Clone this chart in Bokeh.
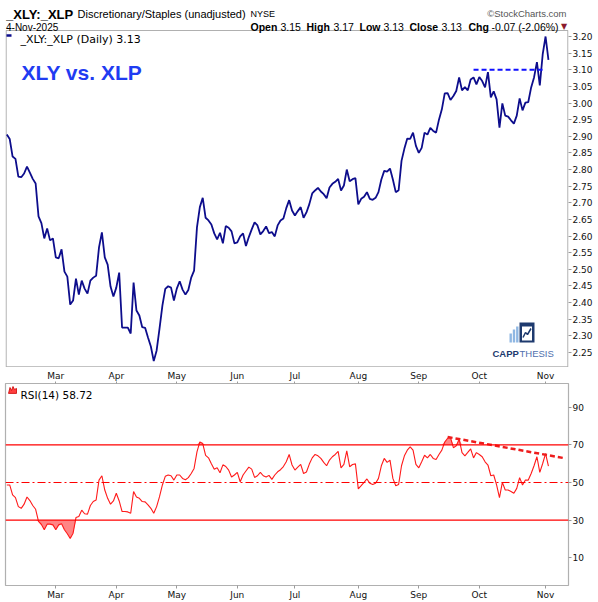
import numpy as np
from bokeh.plotting import figure
from bokeh.layouts import column
from bokeh.models import Range1d, FixedTicker, Span, LinearAxis
from bokeh.embed import file_html
from bokeh.resources import INLINE
from bokeh.core.properties import value

# ---------------- data (trading-day index 0 = 5-Feb-2025) ----------------
month_labels = ["Mar", "Apr", "May", "Jun", "Jul", "Aug", "Sep", "Oct", "Nov"]
month_start_idx = [17, 38, 59, 80, 100, 122, 143, 164, 187]

ratio = [
    2.905, 2.892, 2.839, 2.832, 2.779, 2.777, 2.788, 2.809, 2.791, 2.772,
    2.758, 2.659, 2.639, 2.593, 2.623, 2.587, 2.593, 2.536, 2.533, 2.560,
    2.493, 2.478, 2.394, 2.406, 2.472, 2.424, 2.466, 2.442, 2.427, 2.466,
    2.475, 2.481, 2.566, 2.611, 2.536, 2.514, 2.448, 2.418, 2.445, 2.490,
    2.325, 2.325, 2.325, 2.307, 2.460, 2.376, 2.361, 2.326, 2.324, 2.295,
    2.268, 2.224, 2.256, 2.322, 2.391, 2.441, 2.449, 2.445, 2.406, 2.442,
    2.464, 2.439, 2.424, 2.438, 2.475, 2.496, 2.626, 2.687, 2.715, 2.655,
    2.647, 2.635, 2.608, 2.590, 2.610, 2.578, 2.630, 2.625, 2.614, 2.578,
    2.581, 2.599, 2.608, 2.570, 2.597, 2.620, 2.641, 2.632, 2.605, 2.615,
    2.629, 2.609, 2.612, 2.599, 2.632, 2.647, 2.653, 2.684, 2.708, 2.677,
    2.662, 2.675, 2.687, 2.655, 2.671, 2.696, 2.728, 2.737, 2.745, 2.734,
    2.726, 2.714, 2.746, 2.757, 2.763, 2.772, 2.737, 2.752, 2.800, 2.765,
    2.771, 2.774, 2.695, 2.712, 2.718, 2.732, 2.712, 2.709, 2.715, 2.732,
    2.770, 2.796, 2.794, 2.803, 2.770, 2.732, 2.738, 2.826, 2.863, 2.893,
    2.892, 2.911, 2.871, 2.850, 2.865, 2.911, 2.905, 2.925, 2.916, 2.911,
    2.950, 2.981, 3.029, 3.030, 3.009, 3.021, 3.036, 3.077, 3.038, 3.048,
    3.038, 3.071, 3.077, 3.056, 3.078, 3.066, 3.047, 3.093, 3.017, 3.035,
    3.011, 2.926, 2.999, 2.962, 2.959, 2.948, 2.938, 2.962, 3.014, 2.978,
    3.001, 3.003, 3.047, 3.077, 3.123, 3.053, 3.146, 3.200, 3.130,
]

rsi = [
    48.7, 48.7, 43.4, 42.0, 37.2, 36.3, 38.5, 42.3, 40.4, 37.8,
    35.8, 29.3, 27.7, 24.9, 27.9, 27.9, 27.5, 24.9, 27.5, 28.1,
    24.9, 22.8, 20.3, 23.1, 31.4, 32.0, 35.3, 33.4, 33.2, 37.8,
    39.9, 40.7, 51.3, 53.6, 46.0, 41.6, 38.5, 40.2, 44.3, 40.2,
    34.6, 34.6, 34.4, 33.7, 45.2, 42.3, 41.6, 39.9, 39.7, 38.1,
    36.3, 33.7, 37.2, 42.5, 48.7, 53.3, 54.0, 53.6, 51.3, 54.0,
    54.0, 52.2, 51.5, 52.6, 54.8, 57.5, 66.3, 71.6, 70.7, 64.4,
    63.1, 60.0, 57.1, 57.8, 55.2, 59.4, 58.5, 56.6, 52.9, 54.0,
    55.4, 50.4, 54.0, 56.1, 58.2, 57.1, 52.7, 53.6, 55.4, 53.6,
    52.9, 53.8, 51.7, 54.0, 55.7, 56.8, 58.5, 61.0, 64.9, 59.3,
    56.6, 58.2, 59.6, 54.8, 55.6, 59.8, 63.1, 64.9, 64.2, 62.8,
    60.7, 58.9, 61.9, 63.7, 64.9, 66.5, 57.8, 59.6, 66.8, 58.4,
    59.6, 59.9, 46.6, 48.3, 50.1, 51.9, 49.6, 49.0, 49.6, 52.2,
    58.9, 62.8, 60.7, 61.9, 52.2, 48.3, 49.0, 58.9, 64.2, 67.2,
    68.9, 67.2, 59.6, 57.8, 61.0, 64.5, 63.1, 64.9, 62.8, 62.2,
    64.9, 67.2, 71.5, 73.5, 73.8, 68.5, 69.5, 73.0, 65.9, 64.2,
    66.0, 67.9, 63.1, 65.9, 64.9, 63.7, 61.0, 59.3, 53.6, 54.0,
    48.7, 42.0, 50.1, 46.0, 46.0, 45.2, 44.3, 46.9, 52.6, 48.7,
    51.3, 51.3, 54.8, 58.9, 63.7, 55.4, 60.1, 65.4, 58.72,
]

price_ticks = [2.25, 2.30, 2.35, 2.40, 2.45, 2.50, 2.55, 2.60, 2.65, 2.70, 2.75,
               2.80, 2.85, 2.90, 2.95, 3.00, 3.05, 3.10, 3.15, 3.20]
rsi_ticks = [10, 30, 50, 70, 90]

resist_x = [162, 186]
resist_y = [3.10, 3.10]
rsi_trend_x = [153, 194]
rsi_trend_y = [74.2, 62.8]

idx = np.arange(len(ratio))
rsi_arr = np.array(rsi)

# ---------------- geometry ----------------
W = 598
# both frames: page x 5..568 ; price canvas frame y 0..367, RSI frame y 383..587
X0, X1 = -0.46, 194.96
PX_PER = 563.0 / (X1 - X0)
PY_TOP = 3.20 + 36 / 332.6             # value at page y = 0
PY_BOT = 3.20 - (367 - 36) / 332.6     # value at page y = 367
RY0, RY1 = -4.7, 102.6

FONT = "Liberation Sans"
AXFONT = "DejaVu Sans"
BOX = "#b0b0b0"


def tx(px):
    return X0 + (px - 5) / PX_PER


def ty(py):
    return 3.20 - (py - 36) / 332.6


def ry(py):
    return RY1 - (py - 383) / 204.0 * (RY1 - RY0)


def style_axis(ax, tick_out=3):
    ax.axis_line_color = None
    ax.major_tick_line_color = "#9a9a9a"
    ax.major_tick_out = tick_out
    ax.major_tick_in = 0
    ax.minor_tick_line_color = None
    ax.major_label_text_font = AXFONT
    ax.major_label_text_font_size = "9px"
    ax.major_label_text_color = "#111111"
    ax.major_label_standoff = 1


def month_axis(ax):
    ax.ticker = FixedTicker(ticks=month_start_idx)
    ax.major_label_overrides = {i: m for i, m in zip(month_start_idx, month_labels)}


# ---------------- header + price panel (one canvas) ----------------
p1 = figure(width=W, height=367, x_range=Range1d(X0, X1), y_range=Range1d(PY_BOT, PY_TOP),
            x_axis_location=None, y_axis_location="right", toolbar_location=None,
            output_backend="svg",
            min_border_left=5, min_border_right=30, min_border_top=0, min_border_bottom=0)
for ax in p1.axis:
    style_axis(ax)
p1.grid.visible = False
p1.outline_line_color = None
p1.background_fill_color = "white"
p1.border_fill_color = "white"
p1.yaxis.ticker = FixedTicker(ticks=price_ticks)
p1.yaxis.major_label_overrides = {t: f"{t:.2f}" for t in price_ticks}

# panel box (page x 5..568, y 30..367)
p1.line([tx(5.6), tx(5.6), tx(567.4), tx(567.4), tx(5.6)],
        [ty(366.4), ty(30), ty(30), ty(366.4), ty(366.4)],
        line_color=BOX, line_width=1.2)


def htext(px, py, t, size, bold=False, color="black", align="left", font=FONT):
    p1.text(x=[tx(px)], y=[ty(py)], text=[t], text_font=value(font), text_font_size=size,
            text_font_style="bold" if bold else "normal", text_color=color,
            text_baseline="alphabetic", text_align=align)


# header texts
htext(5.5, 13.5, "_XLY:_XLP", "13px", bold=True)
htext(77, 13, "Discretionary/Staples (unadjusted)", "11px")
htext(250, 13, "NYSE", "9px")
htext(566, 13, "\u00a9StockCharts.com", "9.5px", color="#555555", align="right")
htext(5.5, 26.5, "4-Nov-2025", "10px")
pieces = [("Open", 250, True), ("3.15", 280, False), ("High", 306, True), ("3.17", 333, False),
          ("Low", 359, True), ("3.13", 383, False), ("Close", 409, True), ("3.13", 441, False),
          ("Chg", 468, True), ("-0.07 (-2.06%)", 491, False)]
for t, xx, b in pieces:
    htext(xx, 26.5, t, "10.5px", bold=b)
htext(560.5, 25.5, "\u25bc", "8px", color="#8b1a2b", font="DejaVu Sans")

# series
p1.line(idx, ratio, line_color="#0d0d8c", line_width=1.8)
p1.line(resist_x, resist_y, line_color="#1010ff", line_width=2, line_dash="5 3")

# legend
p1.line([tx(6), tx(11)], [ty(35), ty(35)], line_color="#0d0d8c", line_width=2.5)
htext(20, 39, "_XLY:_XLP (Daily) 3.13", "11px", font="DejaVu Sans")
# chart title annotation
htext(21, 72, "XLY vs. XLP", "21px", bold=True, color="#1f3cf2")
# logo
bar_l = [509, 512.3, 515.6]
bar_t = [333, 329, 326]
p1.quad(left=[tx(v) for v in bar_l], right=[tx(v + 2.4) for v in bar_l],
        top=[ty(v) for v in bar_t], bottom=[ty(342)] * 3, fill_color="#8fb7e3", line_color=None)
p1.quad(left=[tx(519)], right=[tx(534)], top=[ty(322)], bottom=[ty(342)],
        fill_color="#1e3a6e", line_color=None)
p1.quad(left=[tx(521.5)], right=[tx(531.5)], top=[ty(326)], bottom=[ty(340)],
        fill_color="white", line_color=None)
p1.line([tx(522.5), tx(525), tx(527), tx(530.5)], [ty(337), ty(332), ty(334), ty(328)],
        line_color="#1e3a6e", line_width=1.5)
htext(492, 353, "CAPP", "9.5px", bold=True, color="#1e3a6e")
htext(519, 353, "THESIS", "9.5px", color="#4f6fae")

# ---------------- RSI panel (month labels of the price panel sit on its top axis) ----------------
p2 = figure(width=W, height=235, x_range=Range1d(X0, X1), y_range=Range1d(RY0, RY1),
            y_axis_location="right", toolbar_location=None, output_backend="svg",
            min_border_left=5, min_border_right=30, min_border_top=16, min_border_bottom=15)
top_axis = LinearAxis()
p2.add_layout(top_axis, "above")
for ax in p2.axis:
    style_axis(ax)
style_axis(top_axis, tick_out=2)
month_axis(p2.xaxis[0])
month_axis(p2.xaxis[1])
p2.grid.visible = False
p2.background_fill_color = "white"
p2.border_fill_color = "white"
p2.outline_line_color = BOX
p2.outline_line_width = 1.2
p2.yaxis.ticker = FixedTicker(ticks=rsi_ticks)

p2.varea(x=idx, y1=np.minimum(rsi_arr, 30), y2=30, fill_color="#ff2020", fill_alpha=0.55)
p2.varea(x=idx, y1=70, y2=np.maximum(rsi_arr, 70), fill_color="#ff2020", fill_alpha=0.55)
for lvl in (70, 30):
    p2.add_layout(Span(location=lvl, dimension="width", line_color="#ff0000", line_width=1.3))
p2.add_layout(Span(location=50, dimension="width", line_color="#ff0000", line_width=1.2,
                   line_dash="8 3 2 3"))
p2.line(idx, rsi, line_color="#ff1a1a", line_width=1.1)
p2.line(rsi_trend_x, rsi_trend_y, line_color="#ee1c1c", line_width=2.5, line_dash="5 3")

# RSI legend
p2.patch([tx(8), tx(9.5), tx(11), tx(12.5), tx(14), tx(16), tx(16), tx(8)],
         [ry(393), ry(387), ry(390), ry(386), ry(389), ry(388), ry(393), ry(393)],
         fill_color="#ff4040", line_color="#cc0000", line_width=0.8)
p2.text(x=[tx(20)], y=[ry(394.5)], text=["RSI(14) 58.72"], text_font=value("DejaVu Sans"),
        text_font_size="10.5px", text_color="black", text_baseline="alphabetic")

layout = column(p1, p2, spacing=0)
open("out.html", "w").write(file_html(layout, INLINE))
